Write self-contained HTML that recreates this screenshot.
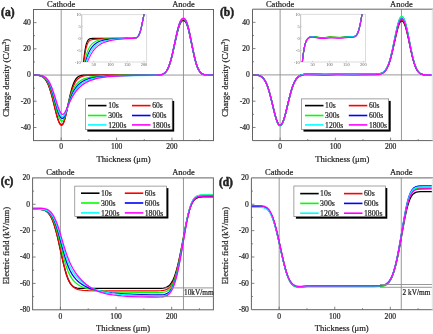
<!DOCTYPE html>
<html><head><meta charset="utf-8"><style>html,body{margin:0;padding:0;background:#fff;}svg{display:block;}</style></head>
<body>
<svg width="433" height="334" viewBox="0 0 433 334" font-family="'Liberation Serif','Times New Roman',serif">
<rect width="433" height="334" fill="#fff"/>
<style>text{stroke:#333;stroke-width:0.22px;paint-order:stroke}</style>
<clipPath id="ca"><rect x="33.5" y="9.5" width="180.00" height="131.10"/></clipPath>
<line x1="61.19" y1="9.5" x2="61.19" y2="140.6" stroke="#8c8c8c" stroke-width="0.9"/>
<line x1="183.48" y1="9.5" x2="183.48" y2="140.6" stroke="#8c8c8c" stroke-width="0.9"/>
<line x1="33.5" y1="75.05" x2="213.5" y2="75.05" stroke="#8c8c8c" stroke-width="0.9"/>
<g clip-path="url(#ca)">
<g fill="none" stroke-width="1.3" stroke-linejoin="round">
<path stroke="#000000" d="M33.50,75.08 36.27,75.18 38.48,75.40 40.15,75.74 41.81,76.36 42.92,77.00 43.47,77.41 44.58,78.44 45.68,79.81 46.79,81.59 47.90,83.82 49.01,86.55 50.67,91.59 52.33,97.64 56.21,113.29 57.32,117.26 57.87,119.01 58.98,121.93 59.53,123.05 60.08,123.91 60.64,124.50 61.19,124.82 61.75,124.84 62.30,124.50 62.85,123.80 63.41,122.75 63.96,121.37 65.07,117.75 66.73,110.78 70.05,95.46 71.72,88.99 72.82,85.46 73.93,82.59 74.48,81.40 75.59,79.45 76.15,78.67 77.25,77.45 77.81,76.98 78.92,76.27 80.02,75.80 81.68,75.39 83.35,75.19 86.12,75.08 152.58,75.05 157.56,75.00 160.33,74.79 161.99,74.44 163.10,74.03 163.65,73.74 164.76,72.97 165.87,71.86 166.42,71.15 167.53,69.35 168.64,66.99 169.19,65.59 170.30,62.31 171.41,58.41 172.52,53.97 176.95,34.11 178.05,29.78 179.16,26.17 179.72,24.68 180.27,23.42 180.82,22.40 181.38,21.61 181.93,21.05 182.48,20.70 183.04,20.54 183.59,20.52 184.15,20.63 184.70,20.94 185.25,21.49 185.81,22.29 186.36,23.36 186.92,24.69 187.47,26.28 188.58,30.18 189.68,34.87 193.01,50.87 194.67,58.21 195.78,62.37 196.33,64.19 197.44,67.29 198.55,69.71 199.65,71.50 200.76,72.79 201.87,73.66 202.42,73.98 203.53,74.43 205.19,74.80 206.85,74.96 209.07,75.03 213.50,75.05"/>
<path stroke="#ff0000" d="M33.50,75.08 36.27,75.17 38.48,75.38 40.15,75.72 41.81,76.32 42.92,76.94 43.47,77.34 44.58,78.35 45.68,79.70 46.79,81.44 47.90,83.65 49.01,86.35 50.67,91.35 52.33,97.39 56.21,113.17 57.32,117.22 57.87,119.02 58.98,122.05 59.53,123.22 60.08,124.14 60.64,124.80 61.19,125.17 61.75,125.25 62.30,124.97 62.85,124.31 63.41,123.27 63.96,121.89 64.52,120.20 65.07,118.26 66.18,113.78 68.95,101.39 70.05,96.78 71.72,90.81 72.27,89.10 73.38,86.13 73.93,84.84 75.04,82.66 75.59,81.73 76.70,80.19 77.25,79.54 78.36,78.48 79.47,77.66 80.58,77.04 81.68,76.56 82.79,76.20 85.01,75.72 88.33,75.35 92.21,75.17 102.18,75.07 152.58,75.05 158.12,74.97 160.33,74.78 161.99,74.43 163.10,74.01 163.65,73.72 164.76,72.94 165.87,71.80 166.42,71.08 167.53,69.25 168.64,66.86 169.19,65.43 170.30,62.09 171.41,58.13 172.52,53.61 176.95,33.42 178.05,29.02 179.16,25.35 179.72,23.84 180.27,22.55 180.82,21.51 181.38,20.71 181.93,20.14 182.48,19.78 183.04,19.62 183.59,19.60 184.15,19.71 184.70,20.03 185.25,20.58 185.81,21.40 186.36,22.49 186.92,23.84 187.47,25.46 188.58,29.43 189.68,34.19 193.01,50.47 194.67,57.93 195.78,62.15 196.33,64.00 197.44,67.16 198.55,69.62 199.65,71.44 200.76,72.75 201.87,73.64 202.42,73.96 203.53,74.42 205.19,74.79 206.85,74.95 209.07,75.03 213.50,75.05"/>
<path stroke="#00ff00" d="M33.50,75.07 36.82,75.17 39.04,75.38 40.70,75.70 42.36,76.29 43.47,76.89 44.02,77.27 45.13,78.24 46.24,79.52 47.35,81.18 48.45,83.27 49.56,85.81 51.22,90.50 52.88,96.12 56.76,110.57 57.87,114.21 58.42,115.81 59.53,118.47 60.08,119.48 60.64,120.25 61.19,120.77 61.75,121.03 62.30,121.01 62.85,120.60 63.41,119.79 63.96,118.63 64.52,117.15 65.62,113.52 68.39,103.10 70.05,97.46 71.72,92.80 72.27,91.47 73.38,89.11 73.93,88.07 75.04,86.23 76.15,84.69 77.25,83.40 78.36,82.30 80.02,80.97 81.13,80.25 82.79,79.36 83.90,78.87 85.56,78.26 87.22,77.77 89.44,77.26 93.32,76.62 98.30,76.11 106.05,75.67 116.58,75.39 128.21,75.24 154.24,75.11 158.12,75.03 160.33,74.84 161.99,74.48 163.10,74.05 163.65,73.76 164.76,72.97 165.87,71.83 166.42,71.10 167.53,69.26 168.64,66.84 169.19,65.41 170.30,62.04 171.41,58.05 172.52,53.50 176.95,33.16 178.05,28.73 179.16,25.03 179.72,23.50 180.27,22.21 180.82,21.16 181.38,20.35 181.93,19.78 182.48,19.42 183.04,19.26 183.59,19.23 184.15,19.35 184.70,19.67 185.25,20.23 185.81,21.05 186.36,22.14 186.92,23.51 187.47,25.14 188.58,29.13 189.68,33.93 193.01,50.32 194.67,57.83 195.78,62.08 196.33,63.95 197.44,67.13 198.55,69.60 199.65,71.44 200.76,72.75 201.87,73.64 202.42,73.97 203.53,74.43 205.19,74.81 206.85,74.97 209.07,75.04 213.50,75.06"/>
<path stroke="#0000ff" d="M33.50,75.07 36.82,75.15 39.04,75.32 40.70,75.60 42.36,76.10 43.47,76.62 44.02,76.96 45.13,77.80 46.24,78.93 47.35,80.41 48.45,82.27 49.56,84.56 51.22,88.82 52.88,93.98 57.32,109.44 58.42,112.75 58.98,114.19 59.53,115.44 60.08,116.50 60.64,117.34 61.19,117.95 61.75,118.32 62.30,118.44 62.85,118.28 63.41,117.78 63.96,116.98 64.52,115.91 65.07,114.60 66.18,111.50 68.95,102.80 70.61,98.05 72.27,94.02 73.38,91.74 74.48,89.76 75.59,88.04 76.70,86.56 77.81,85.28 78.92,84.17 80.02,83.20 81.68,81.99 83.35,80.99 85.01,80.18 86.67,79.50 88.33,78.93 89.99,78.46 92.21,77.93 96.64,77.17 102.18,76.54 106.05,76.24 110.48,75.99 121.01,75.61 132.64,75.40 154.79,75.20 158.12,75.12 160.33,74.91 161.99,74.55 163.10,74.12 163.65,73.83 164.76,73.03 165.87,71.88 166.42,71.15 167.53,69.29 168.64,66.87 169.19,65.42 170.30,62.04 171.41,58.03 172.52,53.45 176.95,33.01 178.05,28.56 179.16,24.84 179.72,23.31 180.27,22.01 180.82,20.96 181.38,20.14 181.93,19.56 182.48,19.20 183.04,19.04 183.59,19.01 184.15,19.13 184.70,19.45 185.25,20.01 185.81,20.83 186.36,21.93 186.92,23.30 187.47,24.94 188.58,28.95 189.68,33.77 193.01,50.23 194.67,57.78 195.78,62.06 196.33,63.93 197.44,67.12 198.55,69.60 199.65,71.45 200.76,72.77 201.87,73.66 202.42,73.99 203.53,74.45 205.19,74.83 206.85,74.99 209.07,75.07 213.50,75.09"/>
<path stroke="#00ffff" d="M33.50,75.07 36.82,75.13 39.04,75.28 40.70,75.52 42.36,75.96 44.02,76.71 45.13,77.46 46.24,78.47 47.35,79.79 48.45,81.48 49.56,83.57 50.67,86.08 51.78,89.01 53.44,94.08 57.32,107.13 58.42,110.41 58.98,111.86 60.08,114.26 60.64,115.17 61.19,115.87 61.75,116.34 62.30,116.58 62.85,116.57 63.41,116.28 63.96,115.72 64.52,114.91 65.07,113.88 66.18,111.33 69.50,102.33 71.16,98.21 72.27,95.78 73.38,93.60 74.48,91.67 75.59,89.97 76.70,88.47 77.81,87.15 78.92,85.98 80.58,84.48 82.24,83.23 83.90,82.18 85.56,81.29 87.22,80.54 88.88,79.90 91.10,79.19 94.98,78.23 99.41,77.46 104.95,76.79 108.82,76.46 113.25,76.17 123.22,75.75 134.30,75.48 155.35,75.23 158.67,75.12 160.33,74.94 161.99,74.58 163.10,74.14 163.65,73.85 164.76,73.05 165.87,71.89 166.42,71.15 167.53,69.29 168.64,66.85 169.19,65.40 170.30,62.00 171.41,57.97 172.52,53.37 176.95,32.83 178.05,28.35 179.16,24.62 179.72,23.08 180.27,21.77 180.82,20.71 181.38,19.90 181.93,19.31 182.48,18.95 183.04,18.78 183.59,18.76 184.15,18.88 184.70,19.20 185.25,19.76 185.81,20.59 186.36,21.69 186.92,23.07 187.47,24.71 188.58,28.74 189.68,33.58 193.01,50.12 194.67,57.70 195.78,62.00 196.33,63.88 197.44,67.09 198.55,69.58 199.65,71.44 200.76,72.76 201.87,73.66 202.42,73.99 203.53,74.45 205.19,74.83 206.85,75.00 209.07,75.07 213.50,75.09"/>
<path stroke="#ff00ff" d="M33.50,75.06 37.38,75.14 39.59,75.30 41.25,75.55 42.92,76.00 44.02,76.48 44.58,76.78 45.68,77.55 46.79,78.57 47.90,79.91 49.01,81.59 50.12,83.67 51.78,87.53 53.44,92.21 57.87,106.22 58.98,109.22 59.53,110.52 60.08,111.66 60.64,112.62 61.19,113.38 61.75,113.93 62.30,114.27 62.85,114.38 63.41,114.23 63.96,113.80 64.52,113.11 65.62,111.17 70.05,101.33 71.16,99.10 72.27,97.04 73.93,94.27 75.04,92.63 76.15,91.14 77.25,89.78 78.92,87.97 80.58,86.40 82.24,85.03 83.90,83.85 86.12,82.50 87.78,81.63 89.99,80.64 91.65,80.01 93.87,79.28 96.08,78.67 98.30,78.15 102.73,77.33 108.27,76.62 112.15,76.26 116.02,75.99 125.99,75.55 135.96,75.32 155.35,75.12 158.67,75.01 160.33,74.84 161.99,74.47 163.10,74.04 163.65,73.74 164.76,72.94 165.87,71.77 166.42,71.03 167.53,69.16 168.64,66.70 169.19,65.24 170.30,61.82 171.41,57.76 172.52,53.14 176.95,32.46 178.05,27.96 179.16,24.20 179.72,22.65 180.27,21.33 180.82,20.27 181.38,19.44 181.93,18.86 182.48,18.49 183.04,18.33 183.59,18.30 184.15,18.42 184.70,18.74 185.25,19.31 185.81,20.15 186.36,21.26 186.92,22.65 187.47,24.30 188.58,28.36 189.68,33.24 193.01,49.90 194.67,57.53 195.78,61.86 196.33,63.75 197.44,66.98 198.55,69.50 199.65,71.37 200.76,72.70 201.87,73.61 202.42,73.94 203.53,74.41 205.19,74.79 206.85,74.96 209.07,75.03 213.50,75.05"/>
</g>
</g>
<rect x="33.5" y="9.5" width="180.00" height="131.10" fill="none" stroke="#636363" stroke-width="1"/>
<line x1="61.19" y1="140.60" x2="61.19" y2="137.60" stroke="#636363" stroke-width="0.8"/>
<text x="61.19" y="149.40" font-size="7.6" text-anchor="middle" fill="#222">0</text>
<line x1="88.88" y1="140.60" x2="88.88" y2="139.10" stroke="#636363" stroke-width="0.8"/>
<line x1="116.58" y1="140.60" x2="116.58" y2="137.60" stroke="#636363" stroke-width="0.8"/>
<text x="116.58" y="149.40" font-size="7.6" text-anchor="middle" fill="#222">100</text>
<line x1="144.27" y1="140.60" x2="144.27" y2="139.10" stroke="#636363" stroke-width="0.8"/>
<line x1="171.96" y1="140.60" x2="171.96" y2="137.60" stroke="#636363" stroke-width="0.8"/>
<text x="171.96" y="149.40" font-size="7.6" text-anchor="middle" fill="#222">200</text>
<line x1="199.65" y1="140.60" x2="199.65" y2="139.10" stroke="#636363" stroke-width="0.8"/>
<line x1="33.50" y1="127.49" x2="36.50" y2="127.49" stroke="#636363" stroke-width="0.8"/>
<text x="30.90" y="129.89" font-size="7.6" text-anchor="end" fill="#222">-40</text>
<line x1="33.50" y1="114.38" x2="35.00" y2="114.38" stroke="#636363" stroke-width="0.8"/>
<line x1="33.50" y1="101.27" x2="36.50" y2="101.27" stroke="#636363" stroke-width="0.8"/>
<text x="30.90" y="103.67" font-size="7.6" text-anchor="end" fill="#222">-20</text>
<line x1="33.50" y1="88.16" x2="35.00" y2="88.16" stroke="#636363" stroke-width="0.8"/>
<line x1="33.50" y1="75.05" x2="36.50" y2="75.05" stroke="#636363" stroke-width="0.8"/>
<text x="30.90" y="77.45" font-size="7.6" text-anchor="end" fill="#222">0</text>
<line x1="33.50" y1="61.94" x2="35.00" y2="61.94" stroke="#636363" stroke-width="0.8"/>
<line x1="33.50" y1="48.83" x2="36.50" y2="48.83" stroke="#636363" stroke-width="0.8"/>
<text x="30.90" y="51.23" font-size="7.6" text-anchor="end" fill="#222">20</text>
<line x1="33.50" y1="35.72" x2="35.00" y2="35.72" stroke="#636363" stroke-width="0.8"/>
<line x1="33.50" y1="22.61" x2="36.50" y2="22.61" stroke="#636363" stroke-width="0.8"/>
<text x="30.90" y="25.01" font-size="7.6" text-anchor="end" fill="#222">40</text>
<clipPath id="cb"><rect x="252.5" y="9.2" width="179.50" height="131.40"/></clipPath>
<line x1="280.12" y1="9.2" x2="280.12" y2="140.6" stroke="#8c8c8c" stroke-width="0.9"/>
<line x1="401.46" y1="9.2" x2="401.46" y2="140.6" stroke="#8c8c8c" stroke-width="0.9"/>
<line x1="252.5" y1="74.90" x2="432.0" y2="74.90" stroke="#8c8c8c" stroke-width="0.9"/>
<g clip-path="url(#cb)">
<g fill="none" stroke-width="1.3" stroke-linejoin="round">
<path stroke="#000000" d="M252.50,74.93 255.26,75.03 256.92,75.18 258.58,75.48 260.23,76.04 261.34,76.63 261.89,77.01 262.99,77.99 264.10,79.31 265.20,81.05 266.31,83.26 267.41,85.98 267.96,87.54 269.07,91.05 270.73,97.19 274.59,113.15 275.70,117.20 276.80,120.61 277.35,122.00 277.91,123.16 278.46,124.07 279.01,124.72 279.56,125.10 280.12,125.23 280.67,125.10 281.22,124.72 281.77,124.07 282.32,123.16 282.88,122.00 283.98,119.00 284.53,117.20 285.64,113.14 288.95,99.39 290.61,92.96 292.27,87.49 293.37,84.48 294.48,82.00 295.03,80.94 296.13,79.17 296.68,78.44 297.79,77.23 298.89,76.31 300.00,75.62 301.10,75.12 302.76,74.63 304.42,74.34 306.63,74.19 309.39,74.19 324.30,74.51 336.45,74.31 353.57,74.40 376.22,74.10 378.98,73.89 380.64,73.58 382.29,72.99 383.40,72.37 383.95,71.96 385.05,70.91 385.61,70.25 386.71,68.61 387.82,66.49 388.37,65.23 389.47,62.27 390.58,58.72 392.23,52.37 396.10,35.05 397.76,28.38 398.86,24.86 399.41,23.48 399.97,22.38 400.52,21.57 401.07,21.09 401.62,20.93 402.18,21.02 402.73,21.33 403.28,21.90 403.83,22.73 404.38,23.84 404.94,25.22 405.49,26.85 406.04,28.72 407.15,33.05 408.25,37.98 411.01,51.05 412.67,58.11 413.77,62.11 414.33,63.86 415.43,66.88 416.54,69.26 417.64,71.06 418.74,72.37 419.85,73.29 420.40,73.63 421.51,74.13 423.16,74.56 424.82,74.76 427.58,74.87 432.00,74.90"/>
<path stroke="#ff0000" d="M252.50,74.93 255.26,75.03 256.92,75.18 258.58,75.48 260.23,76.04 261.34,76.63 261.89,77.01 262.99,78.00 264.10,79.32 265.20,81.06 266.31,83.28 267.41,86.01 267.96,87.57 269.07,91.10 270.73,97.25 274.59,113.25 275.70,117.31 276.80,120.73 277.35,122.12 277.91,123.29 278.46,124.20 279.01,124.85 279.56,125.23 280.12,125.36 280.67,125.23 281.22,124.85 281.77,124.20 282.32,123.28 282.88,122.12 283.98,119.11 284.53,117.31 285.64,113.24 288.95,99.46 290.61,93.01 292.27,87.52 293.37,84.51 294.48,82.02 295.03,80.96 296.13,79.18 296.68,78.45 297.79,77.24 298.89,76.32 300.00,75.63 301.10,75.12 302.76,74.63 304.42,74.34 306.63,74.19 309.39,74.19 324.30,74.51 336.45,74.31 353.57,74.40 376.22,74.10 378.98,73.88 380.64,73.56 382.29,72.96 383.40,72.32 383.95,71.90 385.05,70.83 385.61,70.15 386.71,68.47 387.82,66.30 388.37,65.00 389.47,61.97 390.58,58.33 392.23,51.83 396.10,34.08 397.76,27.25 398.86,23.65 399.41,22.23 399.97,21.10 400.52,20.28 401.07,19.78 401.62,19.61 402.18,19.71 402.73,20.03 403.28,20.61 403.83,21.46 404.38,22.60 404.94,24.01 405.49,25.68 406.04,27.59 407.15,32.03 408.25,37.08 411.01,50.47 412.67,57.70 413.77,61.80 414.33,63.60 415.43,66.69 416.54,69.12 417.64,70.96 418.74,72.30 419.85,73.25 420.40,73.60 421.51,74.11 423.16,74.55 424.82,74.76 427.58,74.87 432.00,74.90"/>
<path stroke="#00ff00" d="M252.50,74.93 255.26,75.03 256.92,75.18 258.58,75.48 260.23,76.04 261.34,76.64 261.89,77.03 262.99,78.01 264.10,79.35 265.20,81.10 266.31,83.32 267.41,86.07 267.96,87.64 269.07,91.18 270.73,97.36 274.59,113.45 275.70,117.53 276.80,120.96 277.35,122.37 277.91,123.54 278.46,124.45 279.01,125.11 279.56,125.50 280.12,125.62 280.67,125.50 281.22,125.11 281.77,124.45 282.32,123.54 282.88,122.37 283.98,119.34 284.53,117.53 285.64,113.44 288.95,99.58 290.61,93.10 292.27,87.58 293.37,84.55 294.48,82.04 295.03,80.97 296.13,79.18 296.68,78.44 297.79,77.21 298.89,76.27 300.00,75.56 301.10,75.04 302.76,74.53 304.42,74.22 306.63,74.06 309.39,74.06 324.30,74.37 336.45,74.18 353.57,74.27 376.22,73.96 378.98,73.73 380.64,73.40 381.74,73.02 382.29,72.77 383.40,72.10 383.95,71.66 385.05,70.53 385.61,69.82 386.71,68.05 387.82,65.76 388.37,64.40 389.47,61.20 390.58,57.37 392.23,50.50 396.10,31.75 397.76,24.53 398.86,20.72 399.41,19.22 399.97,18.03 400.52,17.16 401.07,16.63 401.62,16.46 402.18,16.56 402.73,16.89 403.28,17.51 403.83,18.42 404.38,19.62 404.94,21.11 405.49,22.87 406.04,24.89 407.15,29.59 408.25,34.93 411.01,49.08 412.67,56.72 413.77,61.05 414.33,62.95 415.43,66.22 416.54,68.79 417.64,70.74 418.74,72.16 419.85,73.15 420.40,73.52 421.51,74.07 423.16,74.53 424.82,74.75 427.58,74.87 432.00,74.90"/>
<path stroke="#0000ff" d="M252.50,74.93 255.26,75.03 256.92,75.18 258.58,75.48 260.23,76.04 261.34,76.64 261.89,77.02 262.99,78.01 264.10,79.34 265.20,81.08 266.31,83.30 267.41,86.04 267.96,87.61 269.07,91.14 270.73,97.31 274.59,113.35 275.70,117.42 276.80,120.84 277.35,122.25 277.91,123.41 278.46,124.33 279.01,124.98 279.56,125.37 280.12,125.49 280.67,125.37 281.22,124.98 281.77,124.33 282.32,123.41 282.88,122.24 283.98,119.23 284.53,117.42 285.64,113.34 288.95,99.52 290.61,93.06 292.27,87.56 293.37,84.54 294.48,82.04 295.03,80.98 296.13,79.20 296.68,78.47 297.79,77.26 298.89,76.35 300.00,75.67 301.10,75.17 302.76,74.69 304.42,74.40 306.63,74.25 309.39,74.26 324.30,74.57 336.45,74.38 353.57,74.47 376.22,74.16 378.98,73.93 380.64,73.59 381.74,73.22 382.29,72.97 383.40,72.30 383.95,71.86 385.05,70.74 385.61,70.03 386.71,68.28 387.82,66.02 388.37,64.67 389.47,61.51 390.58,57.73 392.23,50.97 396.10,32.53 397.76,25.44 398.86,21.70 399.41,20.23 399.97,19.05 400.52,18.20 401.07,17.68 401.62,17.51 402.18,17.61 402.73,17.94 403.28,18.54 403.83,19.43 404.38,20.61 404.94,22.07 405.49,23.81 406.04,25.79 407.15,30.40 408.25,35.65 411.01,49.54 412.67,57.04 413.77,61.30 414.33,63.17 415.43,66.37 416.54,68.90 417.64,70.81 418.74,72.21 419.85,73.18 420.40,73.55 421.51,74.08 423.16,74.54 424.82,74.75 427.58,74.87 432.00,74.90"/>
<path stroke="#00ffff" d="M252.50,74.93 255.26,75.03 256.92,75.18 258.58,75.48 260.23,76.04 261.34,76.64 261.89,77.03 262.99,78.01 264.10,79.35 265.20,81.10 266.31,83.32 267.41,86.07 267.96,87.64 269.07,91.18 270.73,97.36 274.59,113.45 275.70,117.53 276.80,120.96 277.35,122.37 277.91,123.54 278.46,124.45 279.01,125.11 279.56,125.50 280.12,125.62 280.67,125.50 281.22,125.11 281.77,124.45 282.32,123.54 282.88,122.37 283.98,119.34 284.53,117.53 285.64,113.44 288.95,99.59 290.61,93.10 292.27,87.59 293.37,84.56 294.48,82.06 295.03,81.00 296.13,79.21 296.68,78.48 297.79,77.27 298.89,76.35 300.00,75.67 301.10,75.17 302.76,74.69 304.42,74.40 306.63,74.25 309.39,74.26 324.30,74.57 336.45,74.38 353.57,74.47 376.22,74.16 378.98,73.93 380.64,73.59 381.74,73.21 382.29,72.96 383.40,72.28 383.95,71.84 385.05,70.71 385.61,69.99 386.71,68.23 387.82,65.94 388.37,64.58 389.47,61.39 390.58,57.58 392.23,50.75 396.10,32.14 397.76,24.99 398.86,21.21 399.41,19.73 399.97,18.54 400.52,17.68 401.07,17.16 401.62,16.99 402.18,17.08 402.73,17.42 403.28,18.03 403.83,18.92 404.38,20.11 404.94,21.59 405.49,23.34 406.04,25.34 407.15,30.00 408.25,35.29 411.01,49.31 412.67,56.88 413.77,61.17 414.33,63.06 415.43,66.30 416.54,68.85 417.64,70.78 418.74,72.18 419.85,73.17 420.40,73.53 421.51,74.07 423.16,74.54 424.82,74.75 427.58,74.87 432.00,74.90"/>
<path stroke="#ff00ff" d="M252.50,74.93 255.26,75.03 256.92,75.18 258.58,75.48 260.23,76.04 261.34,76.63 261.89,77.01 262.99,78.00 264.10,79.32 265.20,81.06 266.31,83.28 267.41,86.01 267.96,87.57 269.07,91.10 270.73,97.25 274.59,113.25 275.70,117.31 276.80,120.73 277.35,122.12 277.91,123.29 278.46,124.20 279.01,124.85 279.56,125.23 280.12,125.36 280.67,125.23 281.22,124.85 281.77,124.20 282.32,123.28 282.88,122.12 283.98,119.11 284.53,117.31 285.64,113.24 290.06,95.08 291.71,89.25 292.82,85.98 293.37,84.55 294.48,82.08 295.03,81.03 296.13,79.30 296.68,78.59 297.79,77.45 298.34,76.99 299.45,76.27 300.55,75.76 302.21,75.28 304.42,74.93 306.63,74.82 324.30,75.16 336.45,74.97 353.57,75.06 376.22,74.74 378.98,74.50 380.64,74.16 381.74,73.78 382.29,73.52 383.40,72.84 383.95,72.40 385.05,71.26 385.61,70.55 386.71,68.80 387.82,66.53 388.37,65.18 389.47,62.05 390.58,58.32 392.23,51.66 396.10,33.62 397.76,26.70 398.86,23.05 399.41,21.61 399.97,20.47 400.52,19.63 401.07,19.13 401.62,18.96 402.18,19.05 402.73,19.38 403.28,19.96 403.83,20.83 404.38,21.98 404.94,23.41 405.49,25.10 406.04,27.03 407.15,31.52 408.25,36.64 411.01,50.18 412.67,57.49 413.77,61.64 414.33,63.46 415.43,66.59 416.54,69.05 417.64,70.92 418.74,72.27 419.85,73.23 420.40,73.58 421.51,74.10 423.16,74.55 424.82,74.76 427.58,74.87 432.00,74.90"/>
</g>
</g>
<path d="M433,9.2 H252.5 V140.6 H433" fill="none" stroke="#636363" stroke-width="1"/>
<line x1="432.3" y1="9.2" x2="432.3" y2="140.6" stroke="#e2e2e2" stroke-width="1.1"/>
<line x1="280.12" y1="140.60" x2="280.12" y2="137.60" stroke="#636363" stroke-width="0.8"/>
<text x="280.12" y="149.40" font-size="7.6" text-anchor="middle" fill="#222">0</text>
<line x1="307.73" y1="140.60" x2="307.73" y2="139.10" stroke="#636363" stroke-width="0.8"/>
<line x1="335.35" y1="140.60" x2="335.35" y2="137.60" stroke="#636363" stroke-width="0.8"/>
<text x="335.35" y="149.40" font-size="7.6" text-anchor="middle" fill="#222">100</text>
<line x1="362.96" y1="140.60" x2="362.96" y2="139.10" stroke="#636363" stroke-width="0.8"/>
<line x1="390.58" y1="140.60" x2="390.58" y2="137.60" stroke="#636363" stroke-width="0.8"/>
<text x="390.58" y="149.40" font-size="7.6" text-anchor="middle" fill="#222">200</text>
<line x1="418.19" y1="140.60" x2="418.19" y2="139.10" stroke="#636363" stroke-width="0.8"/>
<line x1="252.50" y1="127.46" x2="255.50" y2="127.46" stroke="#636363" stroke-width="0.8"/>
<text x="249.90" y="129.86" font-size="7.6" text-anchor="end" fill="#222">-40</text>
<line x1="252.50" y1="114.32" x2="254.00" y2="114.32" stroke="#636363" stroke-width="0.8"/>
<line x1="252.50" y1="101.18" x2="255.50" y2="101.18" stroke="#636363" stroke-width="0.8"/>
<text x="249.90" y="103.58" font-size="7.6" text-anchor="end" fill="#222">-20</text>
<line x1="252.50" y1="88.04" x2="254.00" y2="88.04" stroke="#636363" stroke-width="0.8"/>
<line x1="252.50" y1="74.90" x2="255.50" y2="74.90" stroke="#636363" stroke-width="0.8"/>
<text x="249.90" y="77.30" font-size="7.6" text-anchor="end" fill="#222">0</text>
<line x1="252.50" y1="61.76" x2="254.00" y2="61.76" stroke="#636363" stroke-width="0.8"/>
<line x1="252.50" y1="48.62" x2="255.50" y2="48.62" stroke="#636363" stroke-width="0.8"/>
<text x="249.90" y="51.02" font-size="7.6" text-anchor="end" fill="#222">20</text>
<line x1="252.50" y1="35.48" x2="254.00" y2="35.48" stroke="#636363" stroke-width="0.8"/>
<line x1="252.50" y1="22.34" x2="255.50" y2="22.34" stroke="#636363" stroke-width="0.8"/>
<text x="249.90" y="24.74" font-size="7.6" text-anchor="end" fill="#222">40</text>
<rect x="81.7" y="14.6" width="64.90" height="47.40" fill="#fff" stroke="#dcdcdc" stroke-width="1.0"/>
<line x1="81.7" y1="14.6" x2="81.7" y2="62.0" stroke="#c4c4c4" stroke-width="0.9"/>
<text x="80.70" y="16.10" font-size="4.4" text-anchor="end" fill="#5a5a5a" style="stroke:none">10</text>
<text x="80.70" y="27.95" font-size="4.4" text-anchor="end" fill="#5a5a5a" style="stroke:none">5</text>
<line x1="81.70" y1="26.45" x2="82.90" y2="26.45" stroke="#aaa" stroke-width="0.5"/>
<text x="80.70" y="39.80" font-size="4.4" text-anchor="end" fill="#5a5a5a" style="stroke:none">0</text>
<line x1="81.70" y1="38.30" x2="82.90" y2="38.30" stroke="#aaa" stroke-width="0.5"/>
<text x="80.70" y="51.65" font-size="4.4" text-anchor="end" fill="#5a5a5a" style="stroke:none">-5</text>
<line x1="81.70" y1="50.15" x2="82.90" y2="50.15" stroke="#aaa" stroke-width="0.5"/>
<text x="80.70" y="63.50" font-size="4.4" text-anchor="end" fill="#5a5a5a" style="stroke:none">-10</text>
<text x="93.71" y="66.30" font-size="4.4" text-anchor="middle" fill="#5a5a5a" style="stroke:none">50</text>
<line x1="93.71" y1="62.00" x2="93.71" y2="60.80" stroke="#aaa" stroke-width="0.5"/>
<text x="110.48" y="66.30" font-size="4.4" text-anchor="middle" fill="#5a5a5a" style="stroke:none">100</text>
<line x1="110.48" y1="62.00" x2="110.48" y2="60.80" stroke="#aaa" stroke-width="0.5"/>
<text x="127.25" y="66.30" font-size="4.4" text-anchor="middle" fill="#5a5a5a" style="stroke:none">150</text>
<line x1="127.25" y1="62.00" x2="127.25" y2="60.80" stroke="#aaa" stroke-width="0.5"/>
<text x="144.02" y="66.30" font-size="4.4" text-anchor="middle" fill="#5a5a5a" style="stroke:none">200</text>
<line x1="144.02" y1="62.00" x2="144.02" y2="60.80" stroke="#aaa" stroke-width="0.5"/>
<clipPath id="ica"><rect x="81.7" y="14.6" width="64.90" height="47.40"/></clipPath>
<g fill="none" stroke-width="1.1" clip-path="url(#ica)">
<path stroke="#000000" d="M81.70,66.74 83.00,66.74 83.16,65.80 83.81,59.29 84.47,53.89 84.95,50.54 85.60,46.96 86.25,44.26 87.07,41.89 87.39,41.20 87.88,40.37 88.69,39.45 89.34,38.99 90.16,38.65 91.13,38.45 92.44,38.34 117.65,38.28 133.26,38.06 135.38,37.91 136.03,37.75 136.68,37.50 137.17,37.20 137.65,36.79 138.14,36.23 138.63,35.49 139.44,33.81 140.26,31.47 140.91,29.12 141.72,25.62 144.81,10.16 144.97,9.86 146.60,9.86"/>
<path stroke="#ff0000" d="M81.70,66.74 83.33,66.74 83.49,66.43 84.14,60.36 84.79,55.39 85.44,51.39 86.09,48.22 86.74,45.76 87.56,43.52 88.37,41.98 88.86,41.33 89.34,40.83 90.32,40.15 91.62,39.67 93.41,39.36 96.18,39.11 101.22,38.83 107.07,38.62 133.91,38.07 134.89,38.00 135.70,37.87 136.35,37.67 136.84,37.43 137.33,37.10 137.82,36.64 138.30,36.02 138.79,35.22 139.61,33.41 140.42,30.94 141.07,28.48 141.88,24.88 144.81,10.17 144.97,9.86 146.60,9.86"/>
<path stroke="#00ff00" d="M81.70,66.74 83.81,66.74 83.98,66.35 85.12,60.13 86.25,55.39 86.91,53.22 87.56,51.35 88.21,49.75 89.02,48.07 89.67,46.92 90.32,45.93 90.97,45.07 91.78,44.15 92.60,43.37 93.41,42.71 94.22,42.15 95.20,41.58 97.15,40.72 99.27,40.07 101.71,39.55 104.63,39.15 108.38,38.83 112.93,38.61 126.27,38.21 134.40,38.05 135.38,37.94 136.19,37.73 136.84,37.44 137.49,36.97 138.30,36.03 139.12,34.58 139.93,32.51 140.58,30.37 141.23,27.81 141.88,24.88 144.81,10.18 144.97,9.86 146.60,9.86"/>
<path stroke="#0000ff" d="M81.70,66.74 84.30,66.74 84.47,66.62 85.60,61.77 86.91,57.34 88.21,53.84 88.86,52.36 89.67,50.73 90.48,49.31 91.30,48.07 92.27,46.78 93.25,45.68 94.22,44.73 95.36,43.79 96.50,43.00 97.64,42.33 99.75,41.35 102.19,40.53 104.80,39.91 107.89,39.40 111.79,38.99 116.51,38.69 125.78,38.28 134.56,38.06 135.54,37.93 136.19,37.75 136.84,37.45 137.49,36.98 138.30,36.04 139.12,34.59 139.93,32.52 140.58,30.38 141.23,27.81 141.88,24.89 144.81,10.18 144.97,9.86 146.60,9.86"/>
<path stroke="#00ffff" d="M81.70,66.74 84.79,66.74 84.95,66.51 85.60,64.12 86.42,61.46 87.72,57.84 88.53,55.92 89.34,54.20 90.16,52.67 90.97,51.31 91.78,50.09 92.76,48.80 93.74,47.66 94.88,46.50 96.01,45.49 97.15,44.62 98.29,43.87 99.59,43.12 101.87,42.07 104.31,41.20 107.07,40.48 110.16,39.89 114.56,39.32 120.09,38.85 126.43,38.46 134.73,38.14 135.54,38.02 136.35,37.78 137.00,37.44 137.49,37.06 138.30,36.11 139.12,34.66 139.93,32.58 140.58,30.44 141.23,27.87 141.88,24.94 144.81,10.22 144.97,9.86 146.60,9.86"/>
<path stroke="#ff00ff" d="M81.70,66.74 85.77,66.74 85.93,66.41 86.74,63.91 87.56,61.66 89.02,58.15 90.65,54.92 92.44,52.02 93.41,50.67 94.39,49.47 95.53,48.22 96.66,47.12 97.80,46.15 99.10,45.18 100.41,44.34 101.71,43.61 103.98,42.54 106.42,41.64 109.19,40.86 112.28,40.21 116.67,39.55 122.53,38.95 127.08,38.61 133.59,38.33 134.89,38.22 135.70,38.07 136.35,37.86 137.00,37.51 137.49,37.13 138.30,36.18 139.12,34.72 139.93,32.64 140.58,30.50 141.23,27.93 141.88,24.99 144.81,10.27 144.97,9.86 146.60,9.86"/>
</g>
<rect x="300.6" y="14.4" width="64.90" height="47.60" fill="#fff" stroke="#dcdcdc" stroke-width="1.0"/>
<line x1="300.6" y1="14.4" x2="300.6" y2="62.0" stroke="#c4c4c4" stroke-width="0.9"/>
<text x="299.60" y="15.90" font-size="4.4" text-anchor="end" fill="#5a5a5a" style="stroke:none">10</text>
<text x="299.60" y="27.80" font-size="4.4" text-anchor="end" fill="#5a5a5a" style="stroke:none">5</text>
<line x1="300.60" y1="26.30" x2="301.80" y2="26.30" stroke="#aaa" stroke-width="0.5"/>
<text x="299.60" y="39.70" font-size="4.4" text-anchor="end" fill="#5a5a5a" style="stroke:none">0</text>
<line x1="300.60" y1="38.20" x2="301.80" y2="38.20" stroke="#aaa" stroke-width="0.5"/>
<text x="299.60" y="51.60" font-size="4.4" text-anchor="end" fill="#5a5a5a" style="stroke:none">-5</text>
<line x1="300.60" y1="50.10" x2="301.80" y2="50.10" stroke="#aaa" stroke-width="0.5"/>
<text x="299.60" y="63.50" font-size="4.4" text-anchor="end" fill="#5a5a5a" style="stroke:none">-10</text>
<text x="312.60" y="66.30" font-size="4.4" text-anchor="middle" fill="#5a5a5a" style="stroke:none">50</text>
<line x1="312.60" y1="62.00" x2="312.60" y2="60.80" stroke="#aaa" stroke-width="0.5"/>
<text x="329.50" y="66.30" font-size="4.4" text-anchor="middle" fill="#5a5a5a" style="stroke:none">100</text>
<line x1="329.50" y1="62.00" x2="329.50" y2="60.80" stroke="#aaa" stroke-width="0.5"/>
<text x="346.40" y="66.30" font-size="4.4" text-anchor="middle" fill="#5a5a5a" style="stroke:none">150</text>
<line x1="346.40" y1="62.00" x2="346.40" y2="60.80" stroke="#aaa" stroke-width="0.5"/>
<text x="363.30" y="66.30" font-size="4.4" text-anchor="middle" fill="#5a5a5a" style="stroke:none">200</text>
<line x1="363.30" y1="62.00" x2="363.30" y2="60.80" stroke="#aaa" stroke-width="0.5"/>
<clipPath id="icb"><rect x="300.6" y="14.4" width="64.90" height="47.60"/></clipPath>
<g fill="none" stroke-width="1.1" clip-path="url(#icb)">
<path stroke="#000000" d="M300.60,66.76 301.74,66.76 301.90,66.57 302.71,58.61 303.37,53.40 304.18,48.31 304.99,44.60 305.64,42.45 306.46,40.53 307.27,39.20 308.24,38.12 309.06,37.52 310.20,36.92 311.01,36.65 311.66,36.58 312.47,36.58 313.61,36.69 320.77,37.73 322.88,37.84 324.51,37.75 328.41,37.26 330.20,37.13 332.64,37.18 338.17,37.46 340.78,37.45 348.75,36.78 353.14,36.57 354.28,36.37 355.09,36.06 355.74,35.65 356.23,35.20 356.72,34.61 357.20,33.84 358.02,32.07 358.83,29.63 359.48,27.16 360.29,23.47 362.73,10.15 362.90,9.64 365.50,9.64"/>
<path stroke="#ff0000" d="M300.60,66.76 301.74,66.76 301.90,66.57 302.71,58.61 303.37,53.41 304.18,48.32 304.99,44.61 305.64,42.46 306.46,40.55 307.27,39.23 308.24,38.16 309.06,37.57 310.20,37.00 311.01,36.74 311.66,36.67 312.47,36.68 313.61,36.80 320.61,37.83 322.88,37.96 324.51,37.87 328.41,37.38 330.20,37.25 332.64,37.30 338.17,37.58 340.78,37.57 348.75,36.90 353.14,36.68 354.28,36.49 355.09,36.18 355.74,35.76 356.23,35.32 356.72,34.73 357.20,33.96 358.02,32.19 358.83,29.75 359.48,27.28 360.29,23.58 362.73,10.27 362.90,9.64 365.50,9.64"/>
<path stroke="#00ff00" d="M300.60,66.76 301.74,66.76 301.90,66.57 302.71,58.60 303.37,53.40 304.18,48.30 304.99,44.59 305.64,42.43 306.46,40.51 307.27,39.17 308.24,38.07 309.06,37.46 310.20,36.85 311.01,36.56 311.82,36.47 313.12,36.52 315.73,36.84 320.77,37.61 322.88,37.72 324.51,37.63 328.41,37.14 330.20,37.01 332.64,37.06 338.17,37.34 340.78,37.34 348.75,36.66 353.14,36.45 354.28,36.25 355.09,35.94 355.74,35.53 356.23,35.08 356.72,34.49 357.20,33.72 358.02,31.95 358.83,29.51 359.64,26.35 360.46,22.54 362.73,10.04 362.90,9.64 365.50,9.64"/>
<path stroke="#0000ff" d="M300.60,66.76 301.74,66.76 301.90,66.57 302.71,58.61 303.37,53.42 304.18,48.33 304.99,44.62 305.64,42.49 306.29,40.92 307.11,39.51 307.59,38.88 308.08,38.39 308.90,37.78 309.87,37.29 310.68,36.99 311.50,36.87 312.31,36.88 313.45,37.00 320.61,38.06 322.88,38.20 324.51,38.11 328.41,37.61 330.20,37.49 332.64,37.54 338.17,37.82 340.78,37.81 348.75,37.14 353.14,36.92 354.28,36.73 355.09,36.41 355.74,36.00 356.23,35.56 356.72,34.97 357.20,34.19 358.02,32.43 358.83,29.99 359.64,26.83 360.46,23.01 362.90,9.64 365.50,9.64"/>
<path stroke="#00ffff" d="M300.60,66.76 301.74,66.76 301.90,66.57 302.71,58.61 303.37,53.42 304.18,48.33 304.99,44.62 305.64,42.49 306.29,40.92 307.11,39.51 307.59,38.88 308.08,38.39 308.90,37.78 309.87,37.29 310.68,36.99 311.50,36.87 312.31,36.88 313.45,37.00 320.61,38.06 322.88,38.20 324.51,38.11 328.41,37.61 330.20,37.49 332.64,37.54 338.17,37.82 340.78,37.81 348.75,37.14 353.14,36.92 354.28,36.73 355.09,36.41 355.74,36.00 356.23,35.56 356.72,34.97 357.20,34.19 358.02,32.43 358.83,29.99 359.64,26.83 360.46,23.01 362.90,9.64 365.50,9.64"/>
<path stroke="#ff00ff" d="M300.60,66.76 301.74,66.76 301.90,66.58 302.71,58.62 303.37,53.43 304.18,48.34 304.99,44.65 305.64,42.52 306.29,40.97 307.11,39.59 307.59,38.98 308.08,38.51 308.73,38.04 309.71,37.57 310.52,37.28 311.34,37.16 313.12,37.28 320.44,38.40 321.75,38.52 322.88,38.56 324.51,38.46 328.41,37.97 330.20,37.85 332.64,37.89 338.17,38.18 340.78,38.17 348.75,37.50 353.14,37.28 354.28,37.08 355.09,36.77 355.74,36.36 356.23,35.92 356.72,35.32 357.20,34.55 358.02,32.79 358.83,30.34 359.64,27.18 360.46,23.37 362.90,9.98 363.06,9.64 365.50,9.64"/>
</g>
<clipPath id="cc"><rect x="32.6" y="177.9" width="180.80" height="131.90"/></clipPath>
<line x1="60.42" y1="177.9" x2="60.42" y2="309.8" stroke="#8c8c8c" stroke-width="0.9"/>
<line x1="183.47" y1="177.9" x2="183.47" y2="309.8" stroke="#8c8c8c" stroke-width="0.9"/>
<g clip-path="url(#cc)">
<g fill="none" stroke-width="1.3" stroke-linejoin="round">
<path stroke="#000000" d="M32.60,209.17 37.61,209.23 40.39,209.40 42.61,209.74 43.73,210.03 44.84,210.45 45.95,211.03 46.51,211.40 47.62,212.31 48.18,212.87 49.29,214.22 49.85,215.02 50.96,216.93 52.07,219.26 53.18,222.05 54.30,225.31 55.96,231.04 57.08,235.38 58.19,240.06 62.08,257.69 63.75,264.91 65.42,271.30 66.53,274.95 67.09,276.58 68.20,279.44 68.76,280.67 69.87,282.76 70.43,283.62 71.54,285.05 72.65,286.11 73.77,286.88 74.32,287.18 75.44,287.63 77.10,288.04 79.33,288.29 82.11,288.40 152.76,288.43 157.77,288.40 161.11,288.28 163.33,288.04 164.44,287.83 165.56,287.53 167.23,286.82 168.34,286.12 168.90,285.68 170.01,284.60 170.56,283.94 171.68,282.34 172.79,280.34 173.35,279.17 174.46,276.46 175.57,273.23 176.68,269.46 177.80,265.17 178.91,260.39 181.13,249.60 185.58,226.19 186.70,220.83 187.81,215.97 188.92,211.73 190.04,208.13 191.15,205.18 192.26,202.83 193.37,201.04 193.93,200.32 195.04,199.18 195.60,198.74 196.71,198.08 197.27,197.83 198.38,197.47 200.05,197.15 202.83,196.95 213.40,196.89"/>
<path stroke="#ff0000" d="M32.60,209.17 37.61,209.23 40.39,209.39 42.61,209.71 43.73,210.00 44.84,210.40 45.95,210.96 46.51,211.31 47.62,212.19 48.18,212.73 49.29,214.04 49.85,214.83 50.96,216.69 52.07,218.97 53.18,221.70 54.30,224.89 55.96,230.54 57.08,234.83 58.19,239.46 62.08,257.01 63.75,264.24 65.42,270.65 66.53,274.34 67.09,275.99 68.20,278.92 69.32,281.37 70.43,283.37 71.54,284.99 72.65,286.28 73.77,287.29 74.88,288.08 75.99,288.70 77.10,289.18 78.22,289.54 79.89,289.94 81.56,290.21 83.22,290.40 88.23,290.67 100.47,290.79 149.98,290.81 157.21,290.78 161.11,290.65 163.33,290.40 164.44,290.19 165.56,289.87 167.23,289.14 168.34,288.42 168.90,287.97 170.01,286.85 170.56,286.17 171.68,284.53 172.79,282.46 173.35,281.25 174.46,278.45 175.57,275.12 176.68,271.24 177.80,266.81 178.91,261.88 181.13,250.75 185.58,226.59 186.70,221.06 187.81,216.05 188.92,211.67 190.04,207.96 191.15,204.91 192.26,202.49 193.37,200.64 193.93,199.90 195.04,198.73 195.60,198.27 196.71,197.59 197.27,197.33 198.38,196.96 200.05,196.63 202.83,196.43 213.40,196.37"/>
<path stroke="#00ff00" d="M32.60,209.03 37.61,209.08 40.94,209.25 43.17,209.56 44.28,209.84 45.40,210.22 46.51,210.76 47.06,211.10 48.18,211.93 48.73,212.45 49.85,213.69 50.40,214.43 51.51,216.18 52.63,218.32 53.74,220.87 54.85,223.85 56.52,229.09 58.75,237.32 62.64,253.35 64.31,259.83 65.98,265.51 67.65,270.24 68.76,272.89 69.87,275.17 70.99,277.13 72.10,278.81 73.21,280.26 74.88,282.07 76.55,283.53 78.22,284.73 80.44,286.02 82.67,287.05 84.89,287.89 87.67,288.73 90.46,289.40 93.79,290.02 97.69,290.58 101.58,291.00 106.59,291.40 112.15,291.72 118.83,292.00 126.06,292.21 138.30,292.44 152.76,292.59 158.33,292.59 161.66,292.45 163.89,292.15 165.00,291.89 166.11,291.51 167.23,290.97 167.78,290.62 168.90,289.76 169.45,289.22 170.56,287.90 171.12,287.11 172.23,285.20 173.35,282.82 173.90,281.44 175.01,278.27 176.13,274.54 177.24,270.23 178.35,265.38 179.47,260.03 181.13,251.24 185.58,226.22 186.70,220.49 187.81,215.31 188.92,210.77 190.04,206.92 191.15,203.77 192.26,201.27 193.37,199.35 193.93,198.58 195.04,197.37 195.60,196.90 196.71,196.19 197.27,195.93 198.38,195.55 200.05,195.21 202.83,195.01 213.40,194.96"/>
<path stroke="#0000ff" d="M32.60,209.03 37.61,209.07 40.94,209.21 43.17,209.47 44.28,209.70 45.40,210.03 47.06,210.77 48.18,211.48 48.73,211.92 49.85,212.99 50.40,213.63 51.51,215.16 52.63,217.03 53.18,218.10 54.30,220.54 55.41,223.37 56.52,226.58 57.63,230.13 58.75,233.98 63.20,250.75 64.87,256.68 66.53,261.94 67.65,265.02 68.76,267.77 69.87,270.21 71.54,273.34 72.65,275.13 74.32,277.44 75.99,279.39 77.66,281.05 79.33,282.47 81.56,284.09 83.78,285.46 86.56,286.90 89.34,288.10 92.68,289.28 96.02,290.24 99.36,291.01 103.25,291.74 107.15,292.32 112.15,292.91 117.72,293.41 123.83,293.84 130.51,294.19 140.52,294.57 151.65,294.86 158.33,294.94 161.66,294.83 163.89,294.55 165.00,294.29 166.11,293.91 167.23,293.37 167.78,293.02 168.90,292.15 169.45,291.61 170.56,290.27 171.12,289.46 172.23,287.53 173.35,285.11 173.90,283.71 175.01,280.49 176.13,276.69 177.24,272.32 178.35,267.38 179.47,261.93 181.13,252.98 185.58,227.52 186.70,221.69 187.81,216.41 188.92,211.79 190.04,207.88 191.15,204.67 192.26,202.13 193.37,200.18 193.93,199.40 195.04,198.17 195.60,197.70 196.71,196.98 197.27,196.71 198.38,196.32 200.05,195.99 202.83,195.79 213.40,195.78"/>
<path stroke="#00ffff" d="M32.60,209.16 37.61,209.19 40.94,209.31 43.17,209.53 44.28,209.72 45.40,210.00 46.51,210.39 47.62,210.93 48.73,211.64 49.29,212.08 50.40,213.14 50.96,213.78 52.07,215.27 53.18,217.10 54.30,219.28 55.41,221.83 57.08,226.31 59.30,233.34 63.75,249.01 65.42,254.50 66.53,257.85 67.65,260.91 68.76,263.68 69.87,266.19 71.54,269.48 73.21,272.30 74.88,274.72 76.55,276.82 78.22,278.65 80.44,280.77 82.67,282.59 84.89,284.19 87.67,285.91 90.46,287.38 93.24,288.62 96.02,289.68 99.36,290.73 102.69,291.60 106.59,292.43 110.48,293.11 115.49,293.80 120.50,294.34 126.06,294.81 132.74,295.25 141.64,295.67 151.65,296.00 157.77,296.12 161.66,296.02 163.89,295.74 165.00,295.48 166.11,295.09 167.23,294.54 167.78,294.19 168.90,293.31 169.45,292.75 170.56,291.39 171.12,290.57 172.23,288.60 173.35,286.14 173.90,284.71 175.01,281.43 176.13,277.56 177.24,273.09 178.35,268.06 179.47,262.51 181.13,253.38 185.58,227.42 186.70,221.47 187.81,216.09 188.92,211.38 190.04,207.39 191.15,204.12 192.26,201.53 193.37,199.54 193.93,198.75 195.04,197.49 195.60,197.01 196.71,196.28 197.27,196.01 198.38,195.61 200.05,195.27 202.83,195.07 213.40,195.06"/>
<path stroke="#ff00ff" d="M32.60,208.11 37.61,208.13 40.94,208.23 43.17,208.42 45.40,208.84 46.51,209.18 47.62,209.66 48.73,210.30 49.29,210.69 50.40,211.65 50.96,212.22 52.07,213.58 53.18,215.25 53.74,216.21 54.85,218.39 55.96,220.91 57.08,223.78 58.19,226.96 59.30,230.40 63.75,245.39 65.98,252.40 67.09,255.57 68.76,259.87 69.87,262.45 71.54,265.95 73.21,269.03 75.44,272.61 77.10,274.97 79.33,277.74 81.56,280.18 83.78,282.34 86.01,284.27 88.79,286.36 91.01,287.82 93.79,289.38 96.58,290.68 99.36,291.77 102.14,292.67 105.48,293.55 108.81,294.26 112.71,294.91 117.16,295.48 121.61,295.91 126.62,296.27 132.18,296.55 140.52,296.83 149.98,297.02 157.21,297.08 161.11,296.97 163.33,296.73 164.44,296.50 165.56,296.17 166.67,295.70 167.23,295.40 168.34,294.63 168.90,294.14 170.01,292.95 170.56,292.22 171.68,290.47 172.79,288.25 173.35,286.96 174.46,283.96 175.57,280.39 176.68,276.23 177.80,271.49 178.91,266.20 181.13,254.26 185.58,228.36 186.70,222.43 187.81,217.07 188.92,212.37 190.04,208.38 191.15,205.12 192.26,202.53 193.37,200.54 193.93,199.75 195.04,198.49 195.60,198.01 196.71,197.27 197.27,197.00 198.38,196.60 200.05,196.25 202.83,196.03 213.40,195.97"/>
</g>
</g>
<rect x="32.6" y="177.9" width="180.80" height="131.90" fill="none" stroke="#636363" stroke-width="1"/>
<line x1="60.42" y1="309.80" x2="60.42" y2="306.80" stroke="#636363" stroke-width="0.8"/>
<text x="60.42" y="318.60" font-size="7.6" text-anchor="middle" fill="#222">0</text>
<line x1="88.23" y1="309.80" x2="88.23" y2="308.30" stroke="#636363" stroke-width="0.8"/>
<line x1="116.05" y1="309.80" x2="116.05" y2="306.80" stroke="#636363" stroke-width="0.8"/>
<text x="116.05" y="318.60" font-size="7.6" text-anchor="middle" fill="#222">100</text>
<line x1="143.86" y1="309.80" x2="143.86" y2="308.30" stroke="#636363" stroke-width="0.8"/>
<line x1="171.68" y1="309.80" x2="171.68" y2="306.80" stroke="#636363" stroke-width="0.8"/>
<text x="171.68" y="318.60" font-size="7.6" text-anchor="middle" fill="#222">200</text>
<line x1="199.49" y1="309.80" x2="199.49" y2="308.30" stroke="#636363" stroke-width="0.8"/>
<text x="30.00" y="312.20" font-size="7.6" text-anchor="end" fill="#222">-80</text>
<line x1="32.60" y1="296.61" x2="34.10" y2="296.61" stroke="#636363" stroke-width="0.8"/>
<line x1="32.60" y1="283.42" x2="35.60" y2="283.42" stroke="#636363" stroke-width="0.8"/>
<text x="30.00" y="285.82" font-size="7.6" text-anchor="end" fill="#222">-60</text>
<line x1="32.60" y1="270.23" x2="34.10" y2="270.23" stroke="#636363" stroke-width="0.8"/>
<line x1="32.60" y1="257.04" x2="35.60" y2="257.04" stroke="#636363" stroke-width="0.8"/>
<text x="30.00" y="259.44" font-size="7.6" text-anchor="end" fill="#222">-40</text>
<line x1="32.60" y1="243.85" x2="34.10" y2="243.85" stroke="#636363" stroke-width="0.8"/>
<line x1="32.60" y1="230.66" x2="35.60" y2="230.66" stroke="#636363" stroke-width="0.8"/>
<text x="30.00" y="233.06" font-size="7.6" text-anchor="end" fill="#222">-20</text>
<line x1="32.60" y1="217.47" x2="34.10" y2="217.47" stroke="#636363" stroke-width="0.8"/>
<line x1="32.60" y1="204.28" x2="35.60" y2="204.28" stroke="#636363" stroke-width="0.8"/>
<text x="30.00" y="206.68" font-size="7.6" text-anchor="end" fill="#222">0</text>
<line x1="32.60" y1="191.09" x2="34.10" y2="191.09" stroke="#636363" stroke-width="0.8"/>
<text x="30.00" y="180.30" font-size="7.6" text-anchor="end" fill="#222">20</text>
<clipPath id="cd"><rect x="251.4" y="177.9" width="180.60" height="131.80"/></clipPath>
<line x1="279.18" y1="177.9" x2="279.18" y2="309.7" stroke="#8c8c8c" stroke-width="0.9"/>
<line x1="401.27" y1="177.9" x2="401.27" y2="309.7" stroke="#8c8c8c" stroke-width="0.9"/>
<g clip-path="url(#cd)">
<g fill="none" stroke-width="1.3" stroke-linejoin="round">
<path stroke="#000000" d="M251.40,206.37 257.51,206.39 260.85,206.52 263.07,206.80 264.74,207.26 265.85,207.75 266.40,208.08 267.52,208.92 268.07,209.45 269.18,210.78 269.74,211.58 270.85,213.53 271.96,215.94 273.07,218.85 274.18,222.25 275.85,228.22 278.07,237.46 281.96,255.02 283.63,262.24 285.30,268.74 286.41,272.53 287.52,275.80 288.08,277.25 288.63,278.56 289.74,280.80 290.30,281.75 291.41,283.31 292.52,284.50 293.63,285.38 294.74,286.01 296.41,286.59 297.52,286.80 299.19,286.92 301.41,286.85 306.97,286.40 311.41,286.26 373.10,286.23 377.54,286.18 380.32,286.05 382.54,285.76 383.65,285.51 384.77,285.14 385.88,284.63 386.43,284.30 387.54,283.48 388.10,282.97 389.21,281.71 389.77,280.95 390.88,279.13 391.99,276.85 392.55,275.52 393.66,272.47 394.77,268.87 395.88,264.70 396.99,259.98 398.10,254.77 400.33,243.14 404.22,221.46 405.33,215.78 406.44,210.67 407.55,206.23 408.66,202.50 409.77,199.49 410.88,197.14 412.00,195.37 413.11,194.09 413.66,193.60 414.77,192.86 415.33,192.59 416.44,192.19 418.11,191.86 420.33,191.68 423.66,191.62 432.00,191.61"/>
<path stroke="#ff0000" d="M251.40,206.37 257.51,206.39 260.85,206.52 263.07,206.80 264.74,207.26 265.85,207.75 266.40,208.08 267.52,208.92 268.07,209.45 269.18,210.78 269.74,211.58 270.85,213.53 271.96,215.94 273.07,218.85 274.18,222.25 275.85,228.22 278.07,237.46 281.96,255.02 283.63,262.24 285.30,268.74 286.41,272.53 287.52,275.80 288.08,277.25 288.63,278.56 289.74,280.80 290.30,281.75 291.41,283.31 292.52,284.50 293.63,285.38 294.74,286.01 296.41,286.59 297.52,286.80 299.19,286.92 301.41,286.85 306.97,286.40 311.41,286.26 373.65,286.23 378.10,286.16 380.88,285.99 383.10,285.62 384.21,285.31 385.32,284.86 386.43,284.24 386.99,283.84 388.10,282.86 388.66,282.25 389.77,280.78 390.32,279.89 391.43,277.77 392.55,275.16 393.66,272.01 394.77,268.29 395.88,263.98 396.99,259.11 398.10,253.72 400.33,241.69 404.22,219.29 405.33,213.43 406.44,208.14 407.55,203.55 408.66,199.70 409.77,196.59 410.88,194.16 412.00,192.33 413.11,191.01 413.66,190.50 414.77,189.74 415.33,189.46 416.44,189.05 418.11,188.71 420.33,188.52 423.66,188.45 432.00,188.44"/>
<path stroke="#00ff00" d="M251.40,206.63 257.51,206.66 260.85,206.78 263.07,207.06 264.74,207.52 265.85,208.02 266.40,208.35 267.52,209.19 268.07,209.73 269.18,211.05 269.74,211.87 270.85,213.81 271.96,216.23 273.07,219.15 274.18,222.57 275.85,228.56 278.07,237.82 281.96,255.44 283.63,262.68 285.30,269.21 286.41,273.01 287.52,276.30 288.08,277.74 288.63,279.06 289.74,281.31 290.30,282.26 291.41,283.83 292.52,285.02 293.63,285.90 294.74,286.53 295.86,286.96 297.52,287.33 299.19,287.45 301.41,287.38 306.97,286.93 311.41,286.79 373.65,286.76 378.10,286.69 380.88,286.51 383.10,286.14 384.21,285.82 385.32,285.37 386.43,284.74 386.99,284.34 388.10,283.34 388.66,282.73 389.77,281.23 390.32,280.33 391.43,278.19 392.55,275.54 393.66,272.35 394.77,268.57 395.88,264.21 396.99,259.27 398.10,253.80 400.33,241.62 404.22,218.92 405.33,212.97 406.44,207.62 407.55,202.96 408.66,199.06 409.77,195.91 410.88,193.45 412.00,191.60 413.11,190.25 413.66,189.74 414.77,188.97 415.33,188.68 416.44,188.27 418.11,187.92 420.33,187.73 423.66,187.66 432.00,187.65"/>
<path stroke="#0000ff" d="M251.40,206.63 257.51,206.65 260.85,206.78 263.07,207.06 264.74,207.51 265.85,208.01 266.40,208.33 267.52,209.17 268.07,209.69 269.18,211.01 269.74,211.81 270.85,213.74 271.96,216.14 273.07,219.03 274.18,222.41 275.85,228.34 278.07,237.52 281.96,254.96 283.63,262.13 285.30,268.59 286.41,272.35 287.52,275.61 288.08,277.04 289.19,279.52 290.30,281.51 290.85,282.34 291.97,283.70 293.08,284.72 294.19,285.46 295.30,285.98 296.41,286.33 297.52,286.54 299.19,286.66 301.41,286.59 306.97,286.14 311.41,286.00 373.65,285.97 378.10,285.90 380.88,285.72 383.10,285.35 384.21,285.03 385.32,284.57 386.43,283.93 386.99,283.53 388.10,282.52 388.66,281.90 389.77,280.39 390.32,279.48 391.43,277.32 392.55,274.65 393.66,271.42 394.77,267.61 395.88,263.21 396.99,258.22 398.10,252.71 400.33,240.41 404.22,217.49 405.33,211.50 406.44,206.09 407.55,201.39 408.66,197.46 409.77,194.27 410.88,191.79 412.00,189.92 413.11,188.56 413.66,188.05 414.77,187.26 415.33,186.98 416.44,186.56 418.11,186.21 420.33,186.02 423.66,185.95 432.00,185.94"/>
<path stroke="#00ffff" d="M251.40,207.29 257.51,207.31 260.85,207.44 263.07,207.71 264.74,208.17 265.85,208.65 266.40,208.98 267.52,209.80 268.07,210.33 269.18,211.63 269.74,212.43 270.85,214.34 271.96,216.72 273.07,219.58 274.18,222.94 275.85,228.82 278.07,237.92 281.96,255.22 283.63,262.33 285.30,268.74 286.41,272.47 287.52,275.70 288.08,277.12 289.19,279.58 290.30,281.55 290.85,282.38 291.97,283.73 293.08,284.74 294.19,285.47 295.30,285.99 296.41,286.33 297.52,286.54 299.19,286.66 301.41,286.59 306.97,286.14 311.41,286.00 373.65,285.97 378.10,285.90 380.88,285.72 383.10,285.35 384.21,285.03 385.32,284.58 386.43,283.95 386.99,283.55 388.10,282.55 388.66,281.94 389.77,280.44 390.32,279.54 391.43,277.40 392.55,274.75 393.66,271.56 394.77,267.78 395.88,263.42 396.99,258.48 398.10,253.01 400.33,240.83 404.22,218.13 405.33,212.18 406.44,206.83 407.55,202.17 408.66,198.27 409.77,195.12 410.88,192.66 412.00,190.81 413.11,189.46 413.66,188.95 414.77,188.17 415.33,187.89 416.44,187.48 418.11,187.13 420.33,186.94 423.66,186.87 432.00,186.86"/>
<path stroke="#ff00ff" d="M251.40,205.58 257.51,205.60 260.85,205.72 263.07,206.01 264.74,206.47 265.85,206.97 266.40,207.29 267.52,208.14 268.07,208.67 269.18,210.00 269.74,210.81 270.85,212.76 271.96,215.18 273.07,218.10 274.18,221.51 275.85,227.50 278.07,236.77 281.96,254.39 283.63,261.63 285.30,268.16 286.41,271.95 287.52,275.24 288.08,276.69 288.63,278.01 289.74,280.26 290.30,281.20 291.41,282.77 292.52,283.97 293.63,284.85 294.74,285.48 295.86,285.91 297.52,286.27 299.19,286.39 301.41,286.32 306.97,285.87 311.41,285.73 373.10,285.71 377.54,285.66 380.32,285.51 382.54,285.22 383.65,284.96 384.77,284.59 385.88,284.07 386.43,283.73 387.54,282.89 388.10,282.37 389.21,281.09 389.77,280.31 390.88,278.44 391.99,276.11 392.55,274.76 393.66,271.64 394.77,267.95 395.88,263.69 396.99,258.87 398.10,253.54 400.33,241.65 404.22,219.49 405.33,213.69 406.44,208.46 407.55,203.92 408.66,200.11 409.77,197.03 410.88,194.63 412.00,192.82 413.11,191.51 413.66,191.01 414.77,190.25 415.33,189.97 416.44,189.57 418.11,189.23 420.33,189.05 423.66,188.98 432.00,188.97"/>
</g>
</g>
<path d="M433,177.9 H251.4 V309.7 H433" fill="none" stroke="#636363" stroke-width="1"/>
<line x1="432.3" y1="177.9" x2="432.3" y2="309.7" stroke="#e2e2e2" stroke-width="1.1"/>
<line x1="279.18" y1="309.70" x2="279.18" y2="306.70" stroke="#636363" stroke-width="0.8"/>
<text x="279.18" y="318.50" font-size="7.6" text-anchor="middle" fill="#222">0</text>
<line x1="306.97" y1="309.70" x2="306.97" y2="308.20" stroke="#636363" stroke-width="0.8"/>
<line x1="334.75" y1="309.70" x2="334.75" y2="306.70" stroke="#636363" stroke-width="0.8"/>
<text x="334.75" y="318.50" font-size="7.6" text-anchor="middle" fill="#222">100</text>
<line x1="362.54" y1="309.70" x2="362.54" y2="308.20" stroke="#636363" stroke-width="0.8"/>
<line x1="390.32" y1="309.70" x2="390.32" y2="306.70" stroke="#636363" stroke-width="0.8"/>
<text x="390.32" y="318.50" font-size="7.6" text-anchor="middle" fill="#222">200</text>
<line x1="418.11" y1="309.70" x2="418.11" y2="308.20" stroke="#636363" stroke-width="0.8"/>
<text x="248.80" y="312.10" font-size="7.6" text-anchor="end" fill="#222">-80</text>
<line x1="251.40" y1="296.52" x2="252.90" y2="296.52" stroke="#636363" stroke-width="0.8"/>
<line x1="251.40" y1="283.34" x2="254.40" y2="283.34" stroke="#636363" stroke-width="0.8"/>
<text x="248.80" y="285.74" font-size="7.6" text-anchor="end" fill="#222">-60</text>
<line x1="251.40" y1="270.16" x2="252.90" y2="270.16" stroke="#636363" stroke-width="0.8"/>
<line x1="251.40" y1="256.98" x2="254.40" y2="256.98" stroke="#636363" stroke-width="0.8"/>
<text x="248.80" y="259.38" font-size="7.6" text-anchor="end" fill="#222">-40</text>
<line x1="251.40" y1="243.80" x2="252.90" y2="243.80" stroke="#636363" stroke-width="0.8"/>
<line x1="251.40" y1="230.62" x2="254.40" y2="230.62" stroke="#636363" stroke-width="0.8"/>
<text x="248.80" y="233.02" font-size="7.6" text-anchor="end" fill="#222">-20</text>
<line x1="251.40" y1="217.44" x2="252.90" y2="217.44" stroke="#636363" stroke-width="0.8"/>
<line x1="251.40" y1="204.26" x2="254.40" y2="204.26" stroke="#636363" stroke-width="0.8"/>
<text x="248.80" y="206.66" font-size="7.6" text-anchor="end" fill="#222">0</text>
<line x1="251.40" y1="191.08" x2="252.90" y2="191.08" stroke="#636363" stroke-width="0.8"/>
<text x="248.80" y="180.30" font-size="7.6" text-anchor="end" fill="#222">20</text>
<line x1="165" y1="287.9" x2="213.4" y2="287.9" stroke="#8c8c8c" stroke-width="0.9"/>
<line x1="162" y1="296.6" x2="213.4" y2="296.6" stroke="#8c8c8c" stroke-width="0.9"/>
<text x="184.0" y="294.8" font-size="7.3" fill="#222">10kV/mm</text>
<line x1="380" y1="284.5" x2="431.9" y2="284.5" stroke="#8c8c8c" stroke-width="0.9"/>
<line x1="380" y1="287.3" x2="431.9" y2="287.3" stroke="#8c8c8c" stroke-width="0.9"/>
<text x="402.6" y="294.6" font-size="7.3" fill="#222">2 kV/mm</text>
<rect x="87.30" y="100.90" width="86.90" height="30.70" fill="#000"/>
<rect x="85.30" y="98.90" width="86.90" height="30.70" fill="#fff" stroke="#666" stroke-width="0.6"/>
<line x1="88.00" y1="105.60" x2="106.50" y2="105.60" stroke="#000000" stroke-width="1.6"/>
<text x="108.20" y="108.20" font-size="7.6" fill="#222">10s</text>
<line x1="132.00" y1="105.60" x2="150.50" y2="105.60" stroke="#ff0000" stroke-width="1.6"/>
<text x="152.20" y="108.20" font-size="7.6" fill="#222">60s</text>
<line x1="88.00" y1="115.50" x2="106.50" y2="115.50" stroke="#00ff00" stroke-width="1.6"/>
<text x="108.20" y="118.10" font-size="7.6" fill="#222">300s</text>
<line x1="132.00" y1="115.50" x2="150.50" y2="115.50" stroke="#0000ff" stroke-width="1.6"/>
<text x="152.20" y="118.10" font-size="7.6" fill="#222">600s</text>
<line x1="88.00" y1="124.90" x2="106.50" y2="124.90" stroke="#00ffff" stroke-width="1.6"/>
<text x="108.20" y="127.50" font-size="7.6" fill="#222">1200s</text>
<line x1="132.00" y1="124.90" x2="150.50" y2="124.90" stroke="#ff00ff" stroke-width="1.6"/>
<text x="152.20" y="127.50" font-size="7.6" fill="#222">1800s</text>
<rect x="303.50" y="100.90" width="87.20" height="30.70" fill="#000"/>
<rect x="301.50" y="98.90" width="87.20" height="30.70" fill="#fff" stroke="#666" stroke-width="0.6"/>
<line x1="305.00" y1="105.60" x2="323.50" y2="105.60" stroke="#000000" stroke-width="1.6"/>
<text x="325.10" y="108.20" font-size="7.6" fill="#222">10s</text>
<line x1="348.80" y1="105.60" x2="367.30" y2="105.60" stroke="#ff0000" stroke-width="1.6"/>
<text x="368.90" y="108.20" font-size="7.6" fill="#222">60s</text>
<line x1="305.00" y1="115.50" x2="323.50" y2="115.50" stroke="#00ff00" stroke-width="1.6"/>
<text x="325.10" y="118.10" font-size="7.6" fill="#222">300s</text>
<line x1="348.80" y1="115.50" x2="367.30" y2="115.50" stroke="#0000ff" stroke-width="1.6"/>
<text x="368.90" y="118.10" font-size="7.6" fill="#222">600s</text>
<line x1="305.00" y1="124.90" x2="323.50" y2="124.90" stroke="#00ffff" stroke-width="1.6"/>
<text x="325.10" y="127.50" font-size="7.6" fill="#222">1200s</text>
<line x1="348.80" y1="124.90" x2="367.30" y2="124.90" stroke="#ff00ff" stroke-width="1.6"/>
<text x="368.90" y="127.50" font-size="7.6" fill="#222">1800s</text>
<rect x="76.80" y="188.10" width="91.60" height="30.40" fill="#000"/>
<rect x="74.80" y="186.10" width="91.60" height="30.40" fill="#fff" stroke="#666" stroke-width="0.6"/>
<line x1="81.00" y1="193.20" x2="99.50" y2="193.20" stroke="#000000" stroke-width="1.6"/>
<text x="100.90" y="195.80" font-size="7.8" fill="#222">10s</text>
<line x1="124.80" y1="193.20" x2="143.30" y2="193.20" stroke="#ff0000" stroke-width="1.6"/>
<text x="144.70" y="195.80" font-size="7.8" fill="#222">60s</text>
<line x1="81.00" y1="203.00" x2="99.50" y2="203.00" stroke="#00ff00" stroke-width="1.6"/>
<text x="100.90" y="205.60" font-size="7.8" fill="#222">300s</text>
<line x1="124.80" y1="203.00" x2="143.30" y2="203.00" stroke="#0000ff" stroke-width="1.6"/>
<text x="144.70" y="205.60" font-size="7.8" fill="#222">600s</text>
<line x1="81.00" y1="212.90" x2="99.50" y2="212.90" stroke="#00ffff" stroke-width="1.6"/>
<text x="100.90" y="215.50" font-size="7.8" fill="#222">1200s</text>
<line x1="124.80" y1="212.90" x2="143.30" y2="212.90" stroke="#ff00ff" stroke-width="1.6"/>
<text x="144.70" y="215.50" font-size="7.8" fill="#222">1800s</text>
<rect x="295.90" y="188.00" width="91.40" height="30.70" fill="#000"/>
<rect x="293.90" y="186.00" width="91.40" height="30.70" fill="#fff" stroke="#666" stroke-width="0.6"/>
<line x1="300.20" y1="193.60" x2="318.70" y2="193.60" stroke="#000000" stroke-width="1.6"/>
<text x="320.10" y="196.20" font-size="7.8" fill="#222">10s</text>
<line x1="344.00" y1="193.60" x2="362.50" y2="193.60" stroke="#ff0000" stroke-width="1.6"/>
<text x="363.90" y="196.20" font-size="7.8" fill="#222">60s</text>
<line x1="300.20" y1="203.40" x2="318.70" y2="203.40" stroke="#00ff00" stroke-width="1.6"/>
<text x="320.10" y="206.00" font-size="7.8" fill="#222">300s</text>
<line x1="344.00" y1="203.40" x2="362.50" y2="203.40" stroke="#0000ff" stroke-width="1.6"/>
<text x="363.90" y="206.00" font-size="7.8" fill="#222">600s</text>
<line x1="300.20" y1="213.20" x2="318.70" y2="213.20" stroke="#00ffff" stroke-width="1.6"/>
<text x="320.10" y="215.80" font-size="7.8" fill="#222">1200s</text>
<line x1="344.00" y1="213.20" x2="362.50" y2="213.20" stroke="#ff00ff" stroke-width="1.6"/>
<text x="363.90" y="215.80" font-size="7.8" fill="#222">1800s</text>
<text x="1.1" y="16.3" font-size="11.5" text-anchor="start" font-weight="bold" fill="#222" style="stroke:#111;stroke-width:0.5px">(a)</text>
<text x="220.0" y="16.3" font-size="11.5" text-anchor="start" font-weight="bold" fill="#222" style="stroke:#111;stroke-width:0.5px">(b)</text>
<text x="0.7" y="185.4" font-size="11.5" text-anchor="start" font-weight="bold" fill="#222" style="stroke:#111;stroke-width:0.5px">(c)</text>
<text x="218.9" y="185.5" font-size="11.5" text-anchor="start" font-weight="bold" fill="#222" style="stroke:#111;stroke-width:0.5px">(d)</text>
<text x="61.19" y="6.90" font-size="8.5" text-anchor="middle" font-weight="normal" fill="#222" >Cathode</text>
<text x="183.48" y="6.90" font-size="8.5" text-anchor="middle" font-weight="normal" fill="#222" >Anode</text>
<text x="123.50" y="162.20" font-size="8.6" text-anchor="middle" font-weight="normal" fill="#222" >Thickness (μm)</text>
<text x="280.12" y="6.60" font-size="8.5" text-anchor="middle" font-weight="normal" fill="#222" >Cathode</text>
<text x="401.46" y="6.60" font-size="8.5" text-anchor="middle" font-weight="normal" fill="#222" >Anode</text>
<text x="342.25" y="162.20" font-size="8.6" text-anchor="middle" font-weight="normal" fill="#222" >Thickness (μm)</text>
<text x="60.42" y="175.30" font-size="8.5" text-anchor="middle" font-weight="normal" fill="#222" >Cathode</text>
<text x="183.47" y="175.30" font-size="8.5" text-anchor="middle" font-weight="normal" fill="#222" >Anode</text>
<text x="123.00" y="331.40" font-size="8.6" text-anchor="middle" font-weight="normal" fill="#222" >Thickness (μm)</text>
<text x="279.18" y="175.30" font-size="8.5" text-anchor="middle" font-weight="normal" fill="#222" >Cathode</text>
<text x="401.27" y="175.30" font-size="8.5" text-anchor="middle" font-weight="normal" fill="#222" >Anode</text>
<text x="341.70" y="331.30" font-size="8.6" text-anchor="middle" font-weight="normal" fill="#222" >Thickness (μm)</text>
<text transform="translate(9.3,77.9) rotate(-90)" font-size="8.7" text-anchor="middle" fill="#222">Charge density (C/m<tspan font-size="5.5" dy="-3">3</tspan><tspan dy="3">)</tspan></text>
<text transform="translate(228.3,77.9) rotate(-90)" font-size="8.7" text-anchor="middle" fill="#222">Charge density (C/m<tspan font-size="5.5" dy="-3">3</tspan><tspan dy="3">)</tspan></text>
<text transform="translate(8.6,245.7) rotate(-90)" font-size="8.45" text-anchor="middle" fill="#222">Electric field (kV/mm)</text>
<text transform="translate(227.6,245.7) rotate(-90)" font-size="8.45" text-anchor="middle" fill="#222">Electric field (kV/mm)</text>
</svg>
</body></html>
